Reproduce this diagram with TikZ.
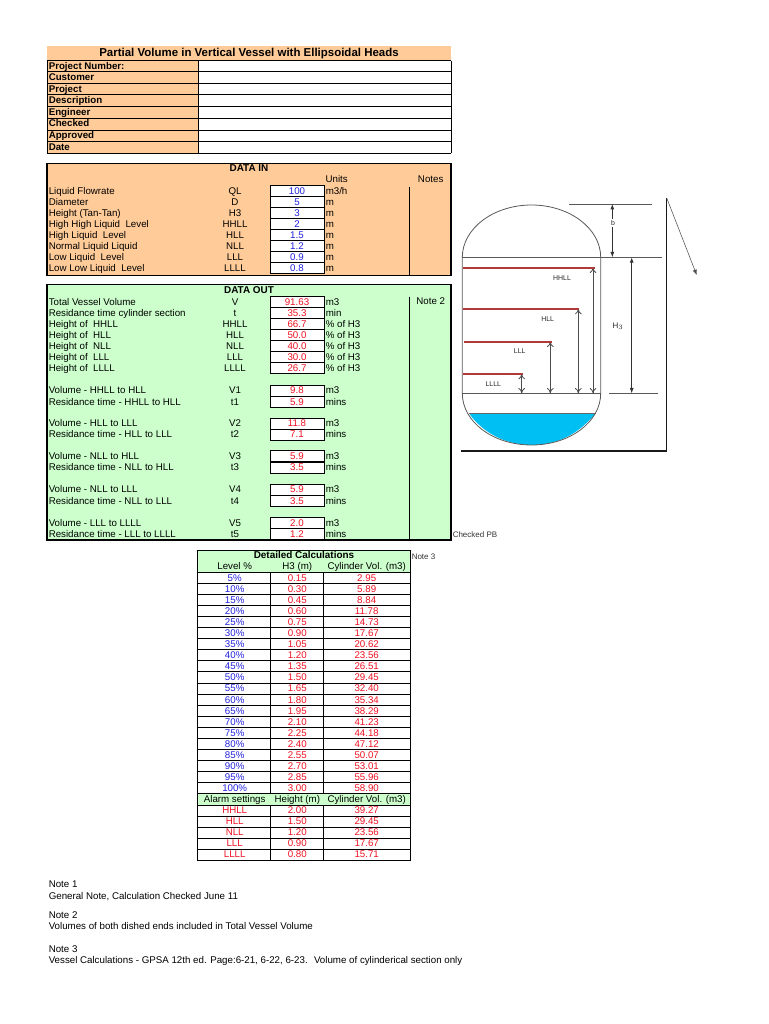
\documentclass[tikz,border=0pt]{standalone}
\usepackage{fontspec}
\usetikzlibrary{arrows.meta}
\setmainfont{Liberation Sans}
\definecolor{orangefill}{HTML}{FFCC99}
\definecolor{greenfill}{HTML}{CCFFCC}
\definecolor{inblue}{HTML}{2222DD}
\definecolor{outred}{HTML}{EE1122}
\definecolor{liquid}{HTML}{00BFF3}
\definecolor{levelred}{HTML}{B03A3A}
\tikzset{
  txt/.style={inner sep=0pt,text height=5.2pt,text depth=0pt,font=\fontsize{7.3}{8}\selectfont},
  lab/.style={txt,anchor=west},
  head/.style={txt,font=\fontsize{7.45}{8}\selectfont\bfseries},
  cellin/.style={txt,draw,fill=white,line width=0.75pt,minimum width=40.5pt,minimum height=8.25pt,text=inblue},
  cellout/.style={txt,draw,fill=white,line width=0.75pt,minimum width=40.5pt,minimum height=8.25pt,text=outred},
  tiny/.style={txt,text height=4pt,font=\fontsize{6}{7}\selectfont,text=black!80},
  vlab/.style={txt,text height=3.6pt,font=\fontsize{5.2}{6}\selectfont,text=black!85},
  level/.style={levelred,line width=1.3pt},
  gauge/.style={{To[length=4pt,width=5pt]}-{To[length=4pt,width=5pt]},black!70,line width=0.6pt},
  dim/.style={{Latex[length=4pt,width=3pt]}-{Latex[length=4pt,width=3pt]},black!80,line width=0.6pt},
  tline/.style={line width=0.75pt}
}
\begin{document}
\begin{tikzpicture}[x=0.75pt,y=-0.75pt]
\useasboundingbox (0,0) rectangle (768,1024);
% title and project block
\fill[orangefill] (47,46) rectangle (451,153);
\node[txt,font=\fontsize{8.6}{9}\selectfont\bfseries] (title) at (249,52.7) {Partial Volume in Vertical Vessel with Ellipsoidal Heads};
\fill[white] (198,60.7) rectangle (451,153);
\foreach \y in {60.7,72,83.3,95,106.7,118.3,130,141.7,153.3}
  \draw[tline] (47,\y) -- (451,\y);
\draw[tline] (47,60.7) -- (47,153.3) (198,60.7) -- (198,153.3) (451,60.7) -- (451,153.3);
\foreach \y/\name [count=\n] in {66.2/Project Number:,77.5/Customer,89/Project,100.5/Description,112/Engineer,123.5/Checked,135/Approved,147/Date}
  \node[lab,font=\fontsize{7.3}{8}\selectfont\bfseries] (prj\n) at (48.5,\y) {\name};
% data in
\draw[fill=orangefill,line width=1.1pt] (47,163.3) rectangle (451,275.5);
\node[head] (datain) at (249,168.3) {DATA IN};
\node[txt] (units) at (336.7,179.3) {Units};
\node[txt] (notes) at (430.7,179.3) {Notes};
\draw[tline] (409.3,186.7) -- (409.3,275.5);
\foreach \y/\name/\sym/\val/\unit [count=\n] in {
  191.2/Liquid Flowrate/QL/100/m3\slash h,
  202.2/Diameter/D/5/m,
  213.2/Height (Tan-Tan)/H3/3/m,
  224.2/High High Liquid~ Level/HHLL/2/m,
  235.2/High Liquid~ Level/HLL/1.5/m,
  246.2/Normal Liquid Liquid/NLL/1.2/m,
  257.2/Low Liquid~ Level/LLL/0.9/m,
  268.2/Low Low Liquid~ Level/LLLL/0.8/m}{
  \node[lab] (inlab\n) at (48.5,\y) {\name};
  \node[txt] (insym\n) at (235,\y) {\sym};
  \node[cellin] (inval\n) at (297,\y) {\val};
  \node[lab] (inunit\n) at (325.5,\y) {\unit};
}
% data out
\draw[fill=greenfill,line width=1.1pt] (47,284.3) rectangle (451,540);
\node[head] (dataout) at (249,290) {DATA OUT};
\node[txt] (note2) at (430.7,301.5) {Note 2};
\draw[tline] (409.3,296.7) -- (409.3,540);
\foreach \y/\name/\sym/\val/\unit [count=\n] in {
  302.2/Total Vessel Volume/V/91.63/m3,
  313.2/Residance time cylinder section/t/35.3/min,
  324.2/Height of~ HHLL/HHLL/66.7/\% of H3,
  335.2/Height of~ HLL/HLL/50.0/\% of H3,
  346.2/Height of~ NLL/NLL/40.0/\% of H3,
  357.2/Height of~ LLL/LLL/30.0/\% of H3,
  368.4/Height of~ LLLL/LLLL/26.7/\% of H3,
  390.5/Volume - HHLL to HLL/V1/9.8/m3,
  401.7/Residance time - HHLL to HLL/t1/5.9/mins,
  423.5/Volume - HLL to LLL/V2/11.8/m3,
  434.5/Residance time - HLL to LLL/t2/7.1/mins,
  456.2/Volume - NLL to HLL/V3/5.9/m3,
  467.5/Residance time - NLL to HLL/t3/3.5/mins,
  489.5/Volume - NLL to LLL/V4/5.9/m3,
  500.8/Residance time - NLL to LLL/t4/3.5/mins,
  523/Volume - LLL to LLLL/V5/2.0/m3,
  534.2/Residance time - LLL to LLLL/t5/1.2/mins}{
  \node[lab] (outlab\n) at (48.5,\y) {\name};
  \node[txt] (outsym\n) at (235,\y) {\sym};
  \node[cellout] (outval\n) at (297,\y) {\val};
  \node[lab] (outunit\n) at (325.5,\y) {\unit};
}
\node[tiny,anchor=west] (checked) at (452.5,534.5) {Checked PB};
% vessel
\fill[liquid] (469,413.3) -- (595.7,413.3) .. controls (580,432) and (560,445) .. (531.5,445)
  .. controls (505,445) and (482,432) .. (469,413.3);
\draw[black!60,line width=0.5pt] (469,413.3) -- (595.7,413.3);
\draw[black!65,line width=0.6pt] (531.5,205) .. controls (569.7,205) and (600.7,228.6) .. (600.7,257.3)
  -- (600.7,393.3) .. controls (600.7,422) and (569.7,445) .. (531.5,445)
  .. controls (493.3,445) and (462.3,422) .. (462.3,393.3) -- (462.3,257.3)
  .. controls (462.3,228.6) and (493.3,205) .. (531.5,205);
\draw[black!65,line width=0.5pt] (462.3,257.3) -- (661.7,257.3)
  (462.3,393.3) -- (600.7,393.3) (609.3,393.3) -- (658.3,393.3) (569,204) -- (651.7,204);
\foreach \name/\xa/\xb/\xc/\y in {hhll/462.5/595/593/267.7,hll/462.5/579/578.3/309,lll/464/551.5/550.3/341.7,llll/462.5/522.7/521.7/374}{
  \coordinate (\name a) at (\xa,\y);
  \coordinate (\name b) at (\xb,\y);
  \coordinate (\name t) at (\xc,\y);
  \coordinate (\name f) at (\xc,393.3);
  \draw[gauge] (\name t) -- (\name f);
  \draw[level] (\name a) -- (\name b);
}
\node[vlab] (hhlltxt) at (562,278.3) {HHLL};
\node[vlab] (hlltxt) at (547.7,319.3) {HLL};
\node[vlab] (llltxt) at (519.7,351) {LLL};
\node[vlab] (lllltxt) at (493.3,384.3) {LLLL};
\coordinate (btop) at (612.3,204);
\coordinate (bbot) at (612.3,257.3);
\coordinate (htop) at (631.7,257.3);
\coordinate (hbot) at (631.7,393.3);
\draw[dim] (btop) -- (bbot);
\draw[dim] (htop) -- (hbot);
\node[vlab,fill=white,inner sep=1pt] (btxt) at (613,223) {b};
\node[vlab,font=\fontsize{6}{7}\selectfont] (htxt) at (618,326) {H$_3$};
\coordinate (frametop) at (666.7,198);
\coordinate (framecor) at (666.7,451);
\coordinate (frameend) at (461,451);
\coordinate (slanttip) at (696.7,275);
\draw[line width=1.1pt,black!90] (frametop) -- (framecor) -- (frameend);
\draw[-{Latex[length=4pt,width=3pt]},black!70,line width=0.4pt] (frametop) -- (slanttip);
% detailed calculations
\fill[greenfill] (197.3,550) rectangle (410,572.7) (197.3,793.3) rectangle (410,805);
\draw[tline] (197.3,550) rectangle (410,860);
\foreach \i in {0,...,20}
  \draw[tline] (197.3,572.7+\i*11.03) -- (410,572.7+\i*11.03);
\foreach \i in {1,...,5}
  \draw[tline] (197.3,805+\i*11) -- (410,805+\i*11);
\draw[tline] (197.3,805) -- (410,805);
\foreach \x in {270.3,323.7}
  \draw[tline] (\x,572.7) -- (\x,793.3) (\x,805) -- (\x,860);
\node[head] (calc) at (304,555.3) {Detailed Calculations};
\node[tiny,anchor=west] (note3) at (411.5,556.5) {Note 3};
\node[txt] (collevel) at (234.7,566.5) {Level \%};
\node[txt] (colh) at (297.3,566.5) {H3 (m)};
\node[txt] (colvol) at (366.7,566.5) {Cylinder Vol. (m3)};
\foreach \lev/\hgt/\vol [count=\n from 0] in {
  5/0.15/2.95,10/0.30/5.89,15/0.45/8.84,20/0.60/11.78,25/0.75/14.73,
  30/0.90/17.67,35/1.05/20.62,40/1.20/23.56,45/1.35/26.51,50/1.50/29.45,
  55/1.65/32.40,60/1.80/35.34,65/1.95/38.29,70/2.10/41.23,75/2.25/44.18,
  80/2.40/47.12,85/2.55/50.07,90/2.70/53.01,95/2.85/55.96,100/3.00/58.90}{
  \node[txt,text=inblue] (lev\n) at (234.7,578.2+\n*11.03) {\lev\%};
  \node[txt,text=outred] (hgt\n) at (297.3,578.2+\n*11.03) {\hgt};
  \node[txt,text=outred] (vol\n) at (366.7,578.2+\n*11.03) {\vol};
}
\node[txt] (alarm) at (234.7,799.2) {Alarm settings};
\node[txt] (alarmh) at (297.3,799.2) {Height (m)};
\node[txt] (alarmv) at (366.7,799.2) {Cylinder Vol. (m3)};
\foreach \tag/\hgt/\vol [count=\n from 0] in {HHLL/2.00/39.27,HLL/1.50/29.45,NLL/1.20/23.56,LLL/0.90/17.67,LLLL/0.80/15.71}{
  \node[txt,text=outred] (tag\n) at (234.7,810.5+\n*11) {\tag};
  \node[txt,text=outred] (taghgt\n) at (297.3,810.5+\n*11) {\hgt};
  \node[txt,text=outred] (tagvol\n) at (366.7,810.5+\n*11) {\vol};
}
% notes
\foreach \y/\name [count=\n] in {884.5/Note 1,896/{General Note, Calculation Checked June 11},915.5/Note 2,926.5/Volumes of both dished ends included in Total Vessel Volume,949/Note 3,960/Vessel Calculations - GPSA 12th ed. Page:6-21{,} 6-22{,} 6-23.~ Volume of cylinderical section only}
  \node[lab] (foot\n) at (48.5,\y) {\name};
\end{tikzpicture}
\end{document}
